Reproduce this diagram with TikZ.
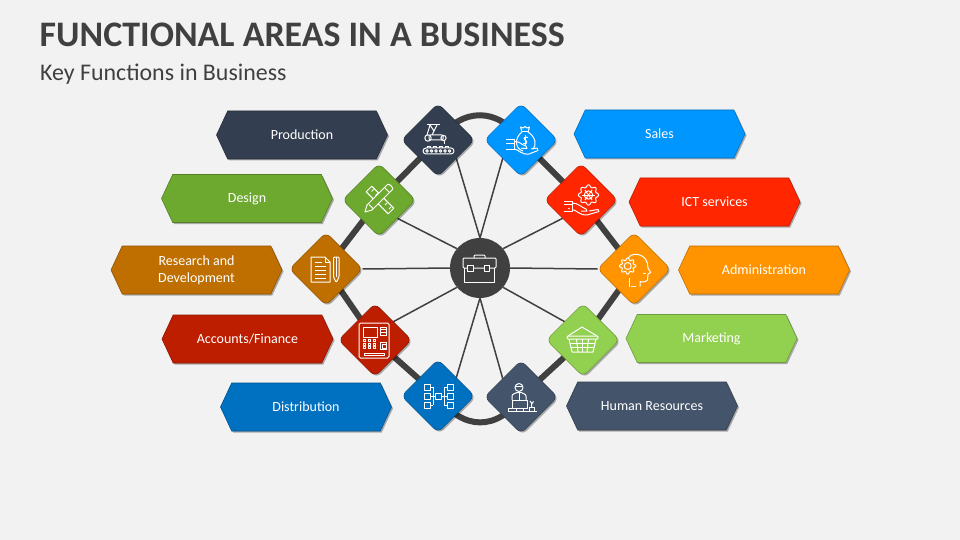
\documentclass[tikz,border=0pt]{standalone}
\usepackage{fontspec}
\setmainfont{Carlito}
\usetikzlibrary{shapes.geometric,shapes.symbols,shadows,backgrounds}
\definecolor{pagebg}{HTML}{F2F2F2}
\definecolor{darkline}{HTML}{404040}
\definecolor{prodcol}{HTML}{333F50}
\definecolor{salescol}{HTML}{0096FF}
\definecolor{designcol}{HTML}{6DA92F}
\definecolor{ictcol}{HTML}{FF2600}
\definecolor{rdcol}{HTML}{BF6F00}
\definecolor{admincol}{HTML}{FF9400}
\definecolor{acctcol}{HTML}{BE1E00}
\definecolor{marketcol}{HTML}{92D050}
\definecolor{distcol}{HTML}{0070C0}
\definecolor{hrcol}{HTML}{44546A}
\tikzset{
  softshadow/.style={drop shadow={shadow xshift=1.5pt,shadow yshift=-1.5pt,opacity=.3,fill=black}},
  hexbox/.style={signal,signal to=west and east,signal pointer angle=130,minimum width=171pt,
    minimum height=48pt,inner sep=0pt,outer sep=0pt,align=center,text=white,font=\fontsize{14}{17}\selectfont,
    fill=#1,draw=#1!75!black,line width=.6pt,softshadow},
  tile/.style={diamond,minimum size=73pt,inner sep=0pt,outer sep=0pt,rounded corners=6pt,
    fill=#1,draw=#1!75!black,line width=.6pt,softshadow},
  ringline/.style={draw=darkline,line width=6pt},
  spoke/.style={draw=darkline,line width=1.5pt},
  icon/.style={draw=white,line width=1pt,line join=round},
}
\newcommand{\gearline}[3]{\draw[icon] plot[domain=0:360,samples=73,smooth] ({#1+(#3+1.2*cos(8*\x))*cos(\x)},{#2+(#3+1.2*cos(8*\x))*sin(\x)});}
\begin{document}
\begin{tikzpicture}[x=1pt,y=-1pt]
  \useasboundingbox (0,0) rectangle (960,540);
  \node (title) [anchor=base west,inner sep=0pt,text=darkline,font=\fontsize{35.9}{40}\selectfont\bfseries] at (39.5,46.5) {FUNCTIONAL AREAS IN A BUSINESS};
  \node (subtitle) [anchor=base west,inner sep=0pt,text=darkline,font=\fontsize{23.9}{27}\selectfont] at (40,81) {Key Functions in Business};

  \node (hexprod)   [hexbox=prodcol]   at (302,135) {Production};
  \node (hexdesign) [hexbox=designcol] at (247,198.5) {Design};
  \node (hexrd)     [hexbox=rdcol]     at (196.5,270) {Research and\\Development};
  \node (hexacct)   [hexbox=acctcol]   at (247.5,339) {Accounts/Finance};
  \node (hexdist)   [hexbox=distcol]   at (306,407) {Distribution};
  \node (hexsales)  [hexbox=salescol]  at (659.5,134) {Sales};
  \node (hexict)    [hexbox=ictcol]    at (714.5,202) {ICT services};
  \node (hexadmin)  [hexbox=admincol]  at (764,270) {Administration};
  \node (hexmarket) [hexbox=marketcol] at (711.5,338.5) {Marketing};
  \node (hexhr)     [hexbox=hrcol]     at (652,406) {Human Resources};

  \node (prod)   [tile=prodcol]   at (438,140) {};
  \node (sales)  [tile=salescol]  at (521,140) {};
  \node (design) [tile=designcol] at (379,200) {};
  \node (ict)    [tile=ictcol]    at (581,200) {};
  \node (rd)     [tile=rdcol]     at (326,269) {};
  \node (admin)  [tile=admincol]  at (634,269) {};
  \node (acct)   [tile=acctcol]   at (375,340) {};
  \node (market) [tile=marketcol] at (583,340) {};
  \node (dist)   [tile=distcol]   at (438,396) {};
  \node (hr)     [tile=hrcol]     at (521,397) {};
  \node (hub)    [circle,fill=darkline,minimum size=60pt,inner sep=0pt,outer sep=0pt] at (480,268) {};

  \begin{pgfonlayer}{background}
    \fill[pagebg] (0,0) rectangle (960,540);
    \draw[ringline] (prod.center) -- (design.center) -- (rd.center) -- (acct.center) -- (dist.center);
    \draw[ringline] (hr.center) -- (market.center) -- (admin.center) -- (ict.center) -- (sales.center);
    \draw[ringline] (prod.center) .. controls (462,107) and (498,107) .. (sales.center);
    \draw[ringline] (dist.center) .. controls (462,431) and (498,431) .. (hr.center);
    \draw[spoke] (prod.south east) -- (hub.north);
    \draw[spoke] (sales.south west) -- (hub.north);
    \draw[spoke] (design.south east) -- (hub.140);
    \draw[spoke] (ict.south west) -- (hub.40);
    \draw[spoke] (rd.east) -- (hub.west);
    \draw[spoke] (admin.west) -- (hub.east);
    \draw[spoke] (acct.north east) -- (hub.220);
    \draw[spoke] (market.north west) -- (hub.-40);
    \draw[spoke] (dist.north east) -- (hub.south);
    \draw[spoke] (hr.north west) -- (hub.south);
  \end{pgfonlayer}

  % hub
  \begin{scope}[shift={(hub.center)},icon]
    \draw[icon,rounded corners=1pt] (-17,0) -- (-17,-10) -- (16,-10) -- (16,0) -- cycle;
    \draw[icon] (-15.5,0) -- (-15.5,14) -- (14.5,14) -- (14.5,0);
    \draw[icon,rounded corners=1pt] (-6,-10) -- (-6,-13) -- (5,-13) -- (5,-10);
    \draw[icon,fill=darkline] (-12.5,-3) rectangle (-7,3);
    \draw[icon,fill=darkline] (4,-3) rectangle (9,3);
  \end{scope}
  % production
  \begin{scope}[shift={(prod.center)}]
    \draw[icon,rounded corners=3pt] (-15,8) rectangle (16,14);
    \foreach \x in {-11,-6.5,-2,2.5,7,11.5} \draw[icon] (\x,11) circle (1.3);
    \foreach \x in {-11,-5,1,7} \draw[icon] (\x,8) -- (\x,6.3) -- (\x+3.5,6.3) -- (\x+3.5,8);
    \draw[icon] (-11,-15) -- (2,-15);
    \draw[icon] (-8,-15) -- (-11,-5);
    \draw[icon] (-1,-15) -- (-6,-5);
    \draw[icon] (-8,-15) -- (-4,-9);
    \draw[icon,rounded corners=1pt] (-9,-5) rectangle (5,0);
    \draw[icon] (-10,-2) circle (3.2);
    \draw[icon] (5.5,-2) circle (2.6);
    \draw[icon] (6,1) -- (6,4.5);
  \end{scope}
  % sales
  \begin{scope}[shift={(sales.center)}]
    \draw[icon] (-15,0) -- (-7,0) -- (-7,10) -- (-15,10);
    \draw[icon] (-15,3.5) -- (-7,3.5);
    \draw[icon] (-7,1.5) .. controls (-1,1) and (0,5) .. (5,6) -- (6,8.5) -- (0,8.5);
    \draw[icon] (-7,9) .. controls (-2,9.5) and (0,15) .. (8,14) -- (17,10.5) -- (16,8) -- (10,9);
    \draw[icon] (1,-8) .. controls (-7,-2) and (-6,9) .. (2,11);
    \draw[icon] (7,-8) .. controls (16,-2) and (15,6) .. (12,9);
    \draw[icon] (1,-8) -- (7,-8);
    \draw[icon] (1,-8) -- (-0.5,-13) -- (2,-12) -- (4,-13.5) -- (6,-12) -- (8.5,-13) -- (7,-8);
    \draw[icon] (7,-2.5) .. controls (4,-4) and (1.5,-1.5) .. (4,0) .. controls (7,1.5) and (6,5) .. (2,3.5);
    \draw[icon] (4.3,-5) -- (4.3,5.5);
  \end{scope}
  % design
  \begin{scope}[shift={(design.center)}]
    \draw[icon] (-0.2,-6.8) -- (-7.2,-13.8) -- (-12.8,-8.2) -- (-5.8,-1.2);
    \draw[icon] (4.8,-1.8) -- (14.8,8.2) -- (9.2,13.8) -- (-0.8,3.8);
    \draw[icon] (-7.5,-8.5) -- (-5.5,-10.5);
    \draw[icon] (-3.5,-4.5) -- (-1.5,-6.5);
    \draw[icon] (6,5) -- (8,3);
    \draw[icon] (10,9) -- (12,7);
    \draw[icon] (-14,12) -- (-12,5) -- (8.5,-15.5) .. controls (10,-17) and (15,-12) .. (13.5,-10.5) -- (-7,10) -- cycle;
    \draw[icon] (5.5,-12.5) -- (10.5,-7.5);
    \draw[icon] (-10,4.5) -- (-6,8.5);
  \end{scope}
  % ict services
  \begin{scope}[shift={(ict.center)}]
    \draw[icon] (-17,1) -- (-9,1) -- (-9,11) -- (-17,11);
    \draw[icon] (-17,4) -- (-9,4);
    \fill[white] (-12,8.5) circle (.9);
    \draw[icon] (-9,3) .. controls (-3,3) and (0,7) .. (5,9) -- (6,11) -- (0,11);
    \draw[icon] (-9,9.5) .. controls (-4,10) and (-1,16) .. (6,15) -- (18,11.5) -- (17,9.5) -- (8,11);
    \gearline{7.5}{-5}{9}
    \draw[icon] (7.5,-5) circle (4.2);
    \draw[icon] (4,-10) -- (11,0);
    \draw[icon] (11,-10) -- (4,0);
    \draw[icon] (1,-5) -- (14,-5);
  \end{scope}
  % research and development
  \begin{scope}[shift={(rd.center)}]
    \draw[icon] (-15,-12) -- (-1,-12) -- (4,-7) -- (4,13) -- (-15,13) -- cycle;
    \draw[icon] (-1,-12) -- (-1,-7) -- (4,-7);
    \foreach \y in {-3,1,5} \draw[icon] (-11,\y) -- (0,\y);
    \draw[icon] (-11,-7) -- (-4,-7);
    \draw[icon] (-11,9) -- (0,9);
    \draw[icon,rounded corners=1pt] (7.5,-12) -- (13,-12) -- (13,8) -- (10.2,13.5) -- (7.5,8) -- cycle;
    \draw[icon] (10.2,-12) -- (10.2,8);
  \end{scope}
  % administration
  \begin{scope}[shift={(admin.center)}]
    \draw[icon] (-6,-11) .. controls (-3,-15) and (2,-15) .. (4,-14.5) .. controls (11,-13) and (14,-8) .. (14,-1) -- (16.7,3.5) -- (14,5) -- (13.5,11) .. controls (13,13) and (10,13) .. (6,12.7) -- (6,17.7);
    \draw[icon] (-5,17.7) -- (-5,9);
    \draw[icon] (-3,17.7) -- (2,17.7);
    \draw[icon] (9,4.5) -- (12,4.5);
    \gearline{-6.3}{-3}{7}
    \draw[icon] (-6.3,-3) circle (3.5);
  \end{scope}
  % accounts/finance
  \begin{scope}[shift={(acct.center)}]
    \draw[icon,rounded corners=1.5pt] (-16,-17) rectangle (14,18);
    \draw[icon] (-12,-13) rectangle (2,-3);
    \draw[icon] (5,-13) rectangle (11,-5);
    \draw[icon] (5,-10.3) -- (11,-10.3);
    \draw[icon] (5,-7.7) -- (11,-7.7);
    \foreach \x in {-12,-7,-2} \foreach \y in {-1,3,6.5} \draw[icon] (\x,\y) rectangle (\x+2.8,\y+2.4);
    \draw[icon] (5,2) rectangle (11,9);
    \draw[icon] (7,4) rectangle (11,8);
    \draw[icon] (-11,13) rectangle (9,15);
  \end{scope}
  % marketing
  \begin{scope}[shift={(market.center)}]
    \draw[icon,rounded corners=1pt] (-16,-4) rectangle (15,-1);
    \draw[icon] (-15,-4) -- (-1,-13) -- (14,-4);
    \draw[icon] (-14,-1) -- (-11,12) -- (10,12) -- (13,-1);
    \draw[icon] (-13.2,3.3) -- (12.2,3.3);
    \draw[icon] (-12.2,7.6) -- (11.2,7.6);
    \draw[icon] (-6.5,-1) -- (-5,12);
    \draw[icon] (-0.5,-1) -- (-0.5,12);
    \draw[icon] (5.5,-1) -- (4,12);
  \end{scope}
  % distribution
  \begin{scope}[shift={(dist.center)}]
    \foreach \y in {-12,-3,6} {
      \draw[icon] (-14,\y) rectangle (-8,\y+6);
      \draw[icon] (9,\y) rectangle (15,\y+6);
      \draw[icon] (-8,\y+3) -- (-5,\y+3);
      \draw[icon] (6,\y+3) -- (9,\y+3);
    }
    \draw[icon] (-3,-3) rectangle (3,3);
    \draw[icon] (-5,-9) -- (-5,9);
    \draw[icon] (6,-9) -- (6,9);
    \draw[icon] (-5,0) -- (-3,0);
    \draw[icon] (3,0) -- (6,0);
  \end{scope}
  % human resources
  \begin{scope}[shift={(hr.center)}]
    \draw[icon] (-2,-9.5) circle (4);
    \draw[icon] (-5.5,-11) -- (1.5,-11);
    \draw[icon] (-9,3) -- (-9,-1) .. controls (-9,-3) and (-5,-4) .. (-4,-4.5) -- (0,-4.5) .. controls (1,-4) and (5,-3) .. (5,-1) -- (5,3);
    \draw[icon] (-2,-4.5) -- (-2,3);
    \draw[icon] (-9,3) rectangle (6,11);
    \draw[icon] (-13,14) -- (16,14);
    \draw[icon] (-13,14) -- (-13,11) -- (-9,11);
    \draw[icon] (-5,14) -- (-5,11);
    \draw[icon] (2,14) -- (2,11);
    \draw[icon] (8,14) -- (8,10) -- (13,10) -- (13,14);
    \draw[icon] (10.5,10) -- (10.5,6) -- (9,4);
    \draw[icon] (10.5,7) -- (12.5,4.5);
  \end{scope}
\end{tikzpicture}
\end{document}
